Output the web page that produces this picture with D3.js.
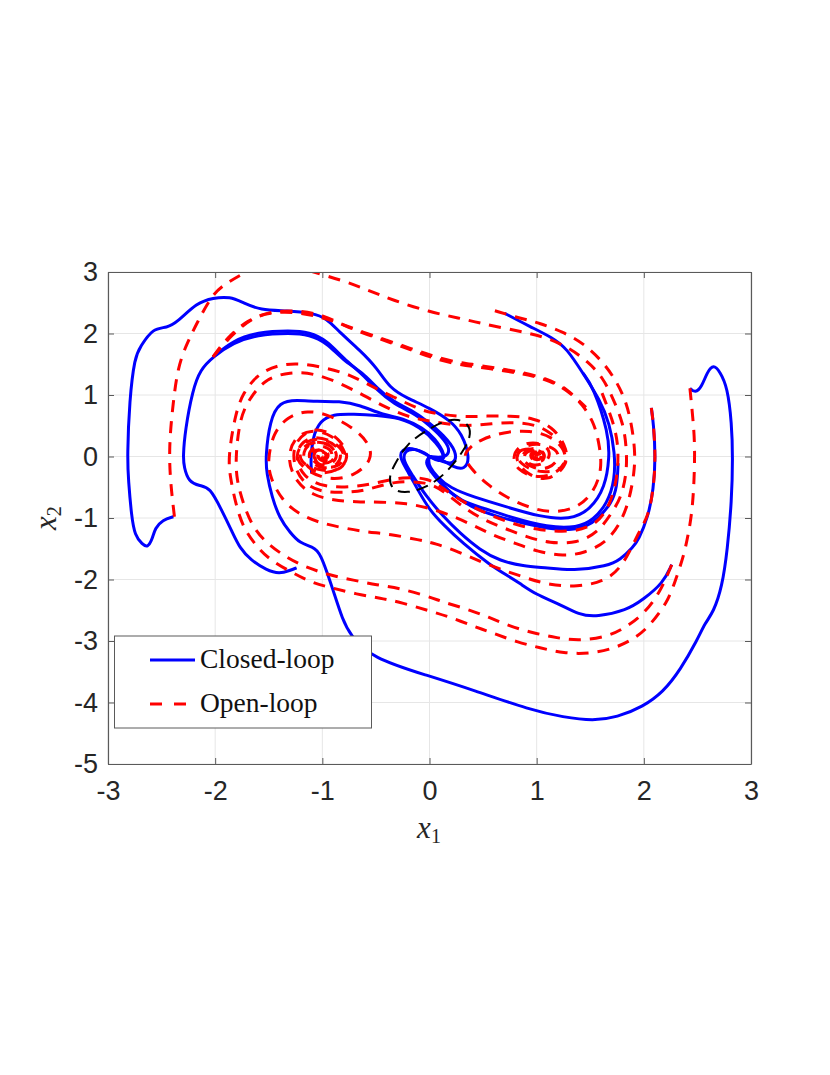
<!DOCTYPE html>
<html><head><meta charset="utf-8">
<script src="https://cdnjs.cloudflare.com/ajax/libs/d3/7.8.5/d3.min.js"></script>
<style>html,body{margin:0;padding:0;background:#fff}svg{display:block}</style></head>
<body><svg id="c" width="830" height="1075"></svg>
<script>
const xTicks=[-3,-2,-1,0,1,2,3];
const yTicks=[-5,-4,-3,-2,-1,0,1,2,3];
const legendLabels=["Closed-loop","Open-loop"];

const closedA=[[-2.39,-0.98],[-2.49,-1.03],[-2.56,-1.16],[-2.59,-1.36],[-2.63,-1.48],[-2.68,-1.43],[-2.75,-1.28],[-2.78,-0.98],[-2.81,-0.38],[-2.82,-0.01],[-2.80,0.92],[-2.75,1.62],[-2.70,1.78],[-2.58,2.09],[-2.45,2.09],[-2.35,2.19],[-2.17,2.50],[-2.02,2.58],[-1.86,2.60],[-1.74,2.50],[-1.58,2.38],[-1.33,2.37],[-1.09,2.33],[-0.96,2.25],[-0.84,2.02],[-0.65,1.73],[-0.49,1.44],[-0.37,1.11],[-0.21,0.95],[0,0.79],[0.19,0.59],[0.30,0.38],[0.38,-0.02],[0.33,-0.22],[0.22,-0.17],[0.13,-0.06],[0,0]];
const closedB=[[-1.24,-1.81],[-1.30,-1.85],[-1.40,-1.91],[-1.52,-1.85],[-1.67,-1.68],[-1.77,-1.49],[-1.84,-1.23],[-1.94,-0.87],[-2.05,-0.50],[-2.14,-0.48],[-2.25,-0.41],[-2.29,-0.17],[-2.30,-0.01],[-2.28,0.43],[-2.21,1.08],[-2.14,1.41],[-2.02,1.62],[-1.83,1.85],[-1.61,1.98],[-1.30,2.01],[-1.12,1.98],[-0.96,1.85],[-0.81,1.57],[-0.62,1.36],[-0.49,1.11],[-0.34,0.89],[-0.12,0.71],[0,0.54],[0.13,0.35],[0.26,0.07],[0.23,-0.13],[0.13,-0.09],[0,0]];
const closedB2=[[-2.02,1.62],[-1.83,1.89],[-1.61,2.02],[-1.30,2.05],[-1.12,2.02],[-0.96,1.89],[-0.80,1.59],[-0.62,1.33],[-0.49,1.08],[-0.34,0.86],[-0.12,0.68],[0,0.50],[0.11,0.33],[0.20,0.12],[0.15,-0.03],[0,0]];
const closedC=[[2.43,1.11],[2.48,1.03],[2.54,1.13],[2.59,1.37],[2.65,1.50],[2.71,1.38],[2.78,1.13],[2.82,0.54],[2.83,-0.01],[2.82,-0.71],[2.78,-1.52],[2.73,-2.12],[2.65,-2.53],[2.57,-2.71],[2.50,-2.98],[2.34,-3.47],[2.18,-3.83],[1.99,-4.07],[1.75,-4.24],[1.53,-4.30],[1.25,-4.24],[0.94,-4.12],[0.41,-3.80],[0,-3.57],[-0.54,-3.28],[-0.74,-2.90],[-0.81,-2.66],[-0.90,-2.17],[-1.02,-1.55],[-1.09,-1.47],[-1.21,-1.41],[-1.30,-1.24],[-1.40,-1.00],[-1.47,-0.66],[-1.52,-0.27],[-1.53,-0.01],[-1.49,0.59],[-1.40,0.89],[-1.24,0.92],[-1.05,0.89],[-0.84,0.90],[-0.65,0.84],[-0.43,0.67],[-0.25,0.63],[-0.06,0.46],[0.05,0.30],[0.15,0.02],[0.12,-0.08],[0,0]];
const closedD=[[-1.10,-0.27],[-1.11,-0.06],[-1.09,0.32],[-1.02,0.58],[-0.90,0.69],[-0.71,0.69],[-0.49,0.67],[-0.28,0.63],[-0.09,0.48],[0.07,0.22],[0.15,-0.02],[0.09,-0.09],[0,0]];
const closedE=[[2.07,0.79],[2.09,0.54],[2.11,-0.01],[2.09,-0.54],[2.04,-0.98],[1.95,-1.36],[1.90,-1.47],[1.78,-1.68],[1.66,-1.78],[1.34,-1.86],[1.10,-1.81],[0.87,-1.78],[0.66,-1.70],[0.47,-1.52],[0.28,-1.24],[0.13,-0.98],[-0.04,-0.63],[-0.16,-0.30],[-0.25,-0.06],[-0.23,0.10],[-0.14,0.13],[-0.04,0.06],[0,0]];
const closedF=[[2.26,-1.76],[2.18,-2.06],[1.99,-2.33],[1.84,-2.50],[1.56,-2.61],[1.40,-2.58],[1.19,-2.38],[1.00,-2.25],[0.84,-2.06],[0.75,-1.96],[0.56,-1.76],[0.31,-1.41],[0.13,-1.11],[0,-0.87],[-0.11,-0.54],[-0.20,-0.25],[-0.28,-0.02],[-0.26,0.12],[-0.16,0.14],[-0.07,0.07],[0,0]];
const closedG=[[0.70,2.33],[0.94,2.11],[1.15,1.93],[1.28,1.76],[1.43,1.36],[1.59,0.92],[1.68,0.54],[1.73,0.06],[1.73,-0.38],[1.66,-0.76],[1.53,-1.03],[1.38,-1.16],[1.10,-1.15],[0.78,-1.00],[0.47,-0.82],[0.31,-0.74],[0.13,-0.50],[0,-0.22],[-0.04,-0.09],[0,0]];
const closedH=[[1.43,1.36],[1.53,1.13],[1.67,0.38],[1.68,-0.01],[1.64,-0.50],[1.50,-0.87],[1.31,-1.03],[1.03,-0.98],[0.72,-0.82],[0.41,-0.66],[0.19,-0.51],[0.07,-0.33],[0,-0.17],[-0.01,-0.06],[0,0]];
const closedI=[[1.76,-0.11],[1.75,-0.50],[1.70,-0.76],[1.56,-1.03],[1.47,-1.13],[1.34,-1.20],[1.12,-1.18],[0.87,-1.08],[0.63,-0.98],[0.38,-0.82],[0.19,-0.59],[0.07,-0.35],[-0.04,-0.11],[0,0]];

const openA=[[-2.38,-0.98],[-2.42,-0.38],[-2.43,0.15],[-2.40,0.76],[-2.35,1.46],[-2.26,1.85],[-2.17,2.17],[-2.02,2.66],[-1.89,2.82],[-1.72,3.0],[-1.45,3.2],[-1.25,3.1],[-1.09,3.0],[-0.82,2.87],[-0.58,2.71],[-0.34,2.54],[0,2.35],[0.28,2.25],[0.47,2.17],[0.69,2.09],[0.91,2.01],[1.10,1.93],[1.31,1.76],[1.48,1.54],[1.62,1.28],[1.71,0.95],[1.81,0.54],[1.84,0.11],[1.84,-0.27],[1.79,-0.66],[1.70,-0.92],[1.57,-1.24],[1.38,-1.41],[1.12,-1.41],[0.91,-1.31],[0.69,-1.16],[0.50,-1.03],[0.31,-0.82],[0.13,-0.56],[-0.02,-0.41],[-0.34,-0.40],[-0.56,-0.54],[-0.77,-0.59],[-1.02,-0.58],[-1.18,-0.43],[-1.27,-0.14],[-1.27,0.19],[-1.16,0.40],[-1.02,0.46],[-0.84,0.30],[-0.74,-0.01],[-0.84,-0.22],[-1.02,-0.30],[-1.18,-0.14],[-1.18,0.15],[-1.04,0.27],[-0.88,0.15],[-0.85,-0.06],[-1.00,-0.19],[-1.13,-0.02],[-1.07,0.14],[-0.95,0.07],[-0.95,-0.09],[-1.04,-0.06],[-1.04,0.07],[-0.97,0],[-1,0]];
const openB=[[0.61,2.37],[0.84,2.25],[1.03,2.17],[1.25,2.02],[1.43,1.85],[1.62,1.54],[1.75,1.21],[1.84,0.87],[1.89,0.48],[1.92,0.06],[1.91,-0.27],[1.87,-0.66],[1.80,-1.03],[1.66,-1.39],[1.45,-1.57],[1.25,-1.62],[1.01,-1.55],[0.80,-1.41],[0.59,-1.28],[0.40,-1.11],[0.19,-0.95],[0,-0.84],[-0.21,-0.76],[-0.46,-0.74],[-0.68,-0.74],[-0.90,-0.71],[-1.09,-0.63],[-1.24,-0.43],[-1.33,-0.06],[-1.27,0.30],[-1.11,0.45],[-0.90,0.35],[-0.79,0.11],[-0.77,-0.09],[-0.86,-0.25],[-1.04,-0.22],[-1.21,-0.11],[-1.22,0.15],[-1.02,0.28],[-0.86,0.11],[-0.90,-0.11],[-1.04,-0.12],[-1.10,0.02],[-1.02,0.15],[-0.93,0.06],[-0.96,-0.07],[-1.04,-0.02],[-1.01,0.07],[-0.98,-0.01],[-1,0]];
const openC=[[2.07,0.79],[2.09,0.54],[2.11,-0.01],[2.09,-0.54],[2.04,-0.98],[1.96,-1.20],[1.80,-1.81],[1.62,-2.04],[1.38,-2.12],[1.12,-2.09],[0.91,-1.98],[0.69,-1.85],[0.49,-1.72],[0.27,-1.55],[0.05,-1.41],[-0.09,-1.36],[-0.37,-1.26],[-0.58,-1.23],[-0.81,-1.16],[-1.02,-1.08],[-1.21,-0.95],[-1.38,-0.71],[-1.49,-0.33],[-1.51,-0.06],[-1.46,0.38],[-1.33,0.64],[-1.14,0.76],[-0.93,0.67],[-0.72,0.48],[-0.56,0.22],[-0.53,-0.06],[-0.71,-0.33],[-0.93,-0.38],[-1.11,-0.27],[-1.26,-0.06],[-1.21,0.22],[-1.07,0.35],[-0.86,0.22],[-0.77,-0.01],[-0.86,-0.19],[-1.02,-0.17],[-1.09,-0.01],[-1.02,0.11],[-0.93,0.02],[-0.99,-0.06],[-1,0]];
const openD=[[1.61,1.03],[1.71,0.59],[1.76,0.22],[1.76,-0.17],[1.73,-0.54],[1.64,-0.95],[1.50,-1.15],[1.31,-1.23],[1.03,-1.20],[0.80,-1.11],[0.56,-0.95],[0.33,-0.76],[0.14,-0.54],[0,-0.35],[-0.25,-0.33],[-0.49,-0.43],[-0.71,-0.50],[-0.99,-0.50],[-1.18,-0.33],[-1.26,-0.01],[-1.19,0.24],[-0.99,0.32],[-0.81,0.11],[-0.84,-0.14],[-1.00,-0.22],[-1.14,-0.06],[-1.11,0.15],[-0.97,0.19],[-0.88,0.02],[-0.97,-0.11],[-1.07,0.01],[-1.00,0.11],[-0.95,0.01],[-1.00,-0.06],[-1,0]];
const openE=[[-2.02,1.62],[-1.89,1.93],[-1.70,2.22],[-1.49,2.35],[-1.24,2.35],[-1.02,2.27],[-0.84,2.17],[-0.62,2.02],[-0.40,1.89],[-0.18,1.76],[0,1.65],[0.22,1.54],[0.44,1.49],[0.68,1.42],[0.89,1.36],[1.10,1.26],[1.28,1.11],[1.43,0.84],[1.54,0.54],[1.59,0.15],[1.61,-0.22],[1.53,-0.59],[1.38,-0.84],[1.15,-0.92],[0.94,-0.84],[0.72,-0.67],[0.54,-0.46],[0.38,-0.19],[0.31,0.02],[0.38,0.15],[0.47,0.27],[0.69,0.40],[0.94,0.43],[1.15,0.32],[1.26,0.11],[1.28,-0.09],[1.17,-0.30],[0.98,-0.35],[0.82,-0.22],[0.77,-0.01],[0.84,0.19],[1.00,0.25],[1.14,0.11],[1.10,-0.11],[0.95,-0.17],[0.86,-0.01],[0.93,0.12],[1.05,0.07],[1.04,-0.07],[0.95,-0.04],[0.97,0.07],[1.03,0],[1.0,-0.02],[1,0]];
const openF=[[-2.02,1.62],[-1.85,1.97],[-1.66,2.25],[-1.46,2.37],[-1.20,2.37],[-0.99,2.30],[-0.80,2.13],[-0.58,1.98],[-0.36,1.85],[-0.15,1.72],[0.03,1.60],[0.25,1.50],[0.47,1.45],[0.71,1.39],[0.92,1.33],[1.13,1.23],[1.30,1.06],[1.46,0.80]];
const openG=[[2.26,-1.76],[2.15,-2.22],[1.99,-2.58],[1.82,-2.79],[1.66,-2.93],[1.40,-3.00],[1.19,-2.95],[0.97,-2.87],[0.75,-2.76],[0.55,-2.61],[0.35,-2.48],[0.13,-2.37],[0,-2.28],[-0.28,-2.14],[-0.49,-2.09],[-0.71,-2.01],[-0.93,-1.93],[-1.14,-1.81],[-1.33,-1.65],[-1.52,-1.41],[-1.65,-1.15],[-1.74,-0.76],[-1.80,-0.38],[-1.81,-0.01],[-1.77,0.64],[-1.67,0.97],[-1.52,1.28],[-1.30,1.37],[-1.09,1.36],[-0.84,1.20],[-0.62,1.00],[-0.40,0.79],[-0.18,0.63],[0,0.58],[0.31,0.48],[0.59,0.54],[0.82,0.56],[1.00,0.51],[1.12,0.40],[1.26,0.19],[1.29,-0.06],[1.22,-0.22],[1.06,-0.27],[0.87,-0.17],[0.78,0.06],[0.93,0.15],[1.10,0.06],[1.03,-0.11],[0.94,-0.01],[1.00,0.09],[1.05,-0.01],[0.99,-0.06],[1,0]];
const openH=[[2.43,1.11],[2.46,0.59],[2.48,0.11],[2.46,-0.82],[2.41,-1.31],[2.37,-1.63],[2.29,-2.04],[2.22,-2.37],[2.06,-2.74],[1.94,-2.93],[1.75,-3.11],[1.50,-3.21],[1.25,-3.20],[1.03,-3.11],[0.82,-3.02],[0.59,-2.87],[0.41,-2.76],[0.19,-2.61],[0,-2.51],[-0.25,-2.38],[-0.46,-2.30],[-0.68,-2.24],[-0.90,-2.14],[-1.09,-2.06],[-1.28,-1.89],[-1.49,-1.68],[-1.61,-1.47],[-1.74,-1.16],[-1.81,-0.76],[-1.86,-0.33],[-1.88,-0.01],[-1.81,0.71],[-1.74,1.03],[-1.61,1.33],[-1.42,1.49],[-1.21,1.52],[-0.96,1.44],[-0.74,1.33],[-0.56,1.16],[-0.34,0.97],[-0.12,0.79],[0,0.71],[0.31,0.64],[0.54,0.66],[0.75,0.66],[0.97,0.63],[1.17,0.46],[1.29,0.11],[1.28,-0.17],[1.10,-0.41],[0.91,-0.30],[0.77,-0.01],[0.91,0.22],[1.12,0.19],[1.24,0.02],[1.12,-0.22],[0.94,-0.19],[0.83,0.01],[0.96,0.17],[1.09,0.07],[1.06,-0.11],[0.94,-0.06],[0.94,0.09],[1.04,0.07],[1.04,-0.06],[0.98,-0.04],[1.0,0.04],[1,0]];
const regionBoundary=[[0.27,0.62],[0.38,0.50],[0.38,0.32],[0.33,0.12],[0.16,-0.27],[-0.02,-0.50],[-0.21,-0.60],[-0.35,-0.55],[-0.38,-0.35],[-0.34,-0.17],[-0.21,0.22],[-0.02,0.43],[0.13,0.58]];

const closedSeries=[closedA,closedB,closedB2,closedC,closedD,closedE,closedF,closedG,closedH,closedI];
const openSeries=[openA,openB,openC,openD,openE,openF,openG,openH];

const L=108,R=751,T=272,B=764;
const x=d3.scaleLinear().domain([-3,3]).range([L,R]);
const y=d3.scaleLinear().domain([-5,3]).range([B,T]);
const svg=d3.select("#c");
svg.append("defs").append("clipPath").attr("id","ax").append("rect").attr("x",L).attr("y",T).attr("width",R-L).attr("height",B-T);

// grid
const grid=svg.append("g").attr("stroke","#e6e6e6").attr("stroke-width",1);
grid.selectAll(".v").data(xTicks).join("line").attr("x1",d=>x(d)).attr("x2",d=>x(d)).attr("y1",T).attr("y2",B);
grid.selectAll(".h").data(yTicks).join("line").attr("y1",d=>y(d)).attr("y2",d=>y(d)).attr("x1",L).attr("x2",R);

const line=d3.line().x(d=>x(d[0])).y(d=>y(d[1])).curve(d3.curveBasis);
const plot=svg.append("g").attr("clip-path","url(#ax)").attr("fill","none").attr("stroke-linejoin","round");
plot.selectAll(".b").data(closedSeries).join("path").attr("d",line).attr("stroke","#0000ff").attr("stroke-width",3);
plot.selectAll(".r").data(openSeries).join("path").attr("d",line).attr("stroke","#ff0000").attr("stroke-width",3).attr("stroke-dasharray","12,9");
plot.append("path").attr("d",d3.line().x(d=>x(d[0])).y(d=>y(d[1])).curve(d3.curveBasisClosed)(regionBoundary)).attr("stroke","#000").attr("stroke-width",2).attr("stroke-dasharray","12,7");

// axes
const fnt="'Liberation Sans',Arial,sans-serif";
const style=g=>{g.select(".domain").attr("stroke","#5a5a5a").attr("stroke-width",1.2);g.selectAll(".tick line").attr("stroke","#5a5a5a").attr("stroke-width",1);g.selectAll("text").attr("font-family",fnt).attr("font-size",27).attr("fill","#262626");};
const fmt=d3.format("d");
svg.append("g").attr("transform",`translate(0,${B})`).call(d3.axisBottom(x).tickValues(xTicks).tickFormat(d=>fmt(d).replace("−","-")).tickSizeInner(-6).tickSizeOuter(0).tickPadding(17)).call(style);
svg.append("g").attr("transform",`translate(${L},0)`).call(d3.axisLeft(y).tickValues(yTicks).tickFormat(d=>fmt(d).replace("−","-")).tickSizeInner(-6).tickSizeOuter(0).tickPadding(10)).call(style);
svg.append("g").attr("transform",`translate(0,${T})`).call(d3.axisTop(x).tickValues(xTicks).tickFormat("").tickSizeInner(-6).tickSizeOuter(0)).call(style);
svg.append("g").attr("transform",`translate(${R},0)`).call(d3.axisRight(y).tickValues(yTicks).tickFormat("").tickSizeInner(-6).tickSizeOuter(0)).call(style);

// axis labels
const serif="'Liberation Serif','Times New Roman',serif";
const xl=svg.append("text").attr("x",429).attr("y",838).attr("text-anchor","middle").attr("font-family",serif).attr("font-size",31).attr("fill","#262626");
xl.append("tspan").attr("font-style","italic").text("x");
xl.append("tspan").attr("font-size",20).attr("dy",5).text("1");
const yl=svg.append("text").attr("transform","translate(56,518) rotate(-90)").attr("text-anchor","middle").attr("font-family",serif).attr("font-size",31).attr("fill","#262626");
yl.append("tspan").attr("font-style","italic").text("x");
yl.append("tspan").attr("font-size",20).attr("dy",5).text("2");

// legend
const lg=svg.append("g");
lg.append("rect").attr("x",114.5).attr("y",636).attr("width",257).attr("height",92).attr("fill","#fff").attr("stroke","#5a5a5a").attr("stroke-width",1);
const rowY=[660,704];
lg.append("line").attr("x1",150).attr("x2",195).attr("y1",rowY[0]).attr("y2",rowY[0]).attr("stroke","#0000ff").attr("stroke-width",3);
lg.append("line").attr("x1",150).attr("x2",195).attr("y1",rowY[1]).attr("y2",rowY[1]).attr("stroke","#ff0000").attr("stroke-width",3).attr("stroke-dasharray","12,12");
lg.selectAll("text").data(legendLabels).join("text").attr("x",200).attr("y",(d,i)=>rowY[i]+8).attr("font-family",serif).attr("font-size",27.5).attr("fill","#111").text(d=>d);
</script></body></html>
